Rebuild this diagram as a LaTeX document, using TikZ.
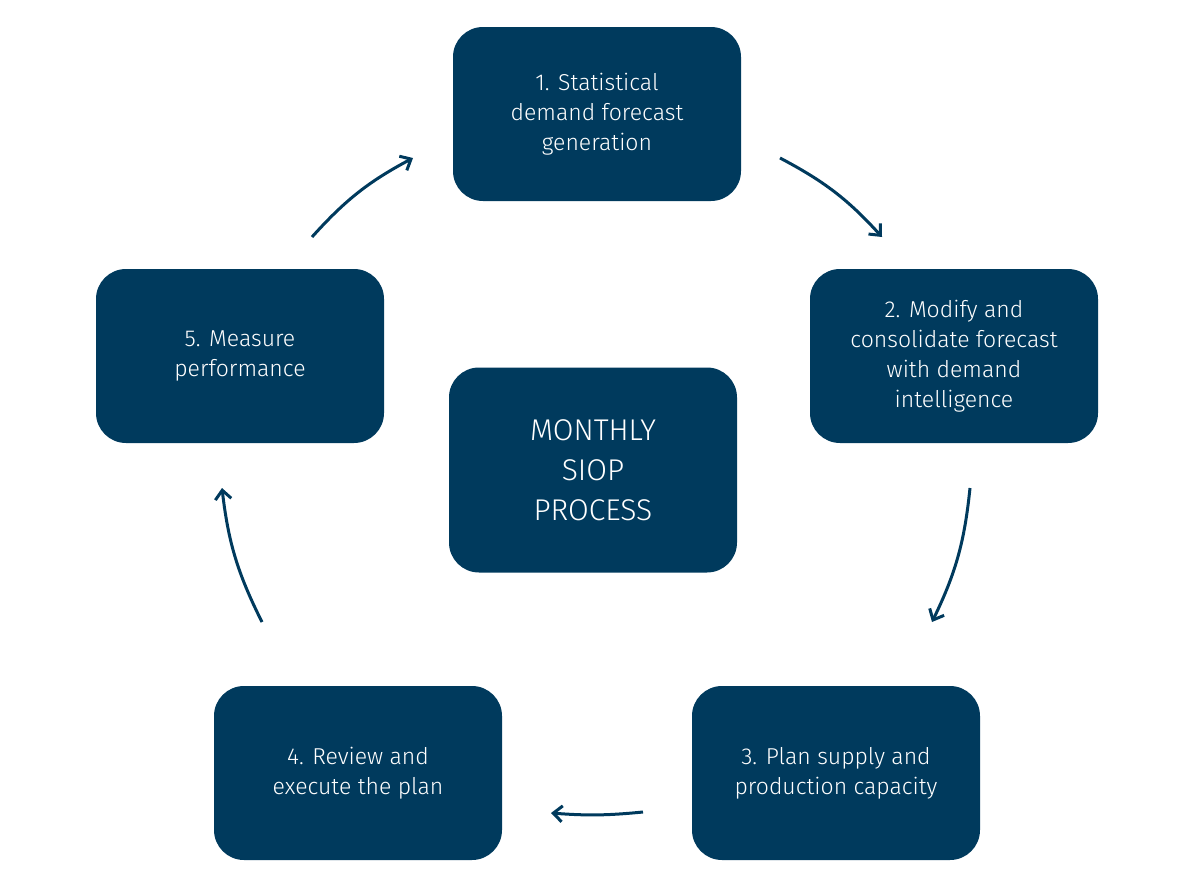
\documentclass[tikz,border=0pt]{standalone}
\usepackage{fontspec}
\setmainfont{Fira Sans Light}[BoldFont=Fira Sans]
\usetikzlibrary{arrows.meta}
\definecolor{navy}{HTML}{003A5D}
\begin{document}
\begin{tikzpicture}[x=1pt,y=-1pt,
  box/.style={fill=navy,rounded corners=30pt,minimum width=288pt,minimum height=174pt,text=white,align=center,font=\fontsize{23}{30}\selectfont},
  arr/.style={draw=navy,line width=3pt,-{Straight Barb[length=9pt,width=16pt,line width=3pt]}}]
\useasboundingbox (0,0) rectangle (1200,889);
\node[box] (b1) at (597,114) {1. Statistical\\demand forecast\\generation};
\node[box] (b2) at (954,356) {2. Modify and\\consolidate forecast\\with demand\\intelligence};
\node[box] (b5) at (240,356) {5. Measure\\performance};
\node[box,minimum height=205pt,font=\fontsize{30}{40}\selectfont] (c) at (593,470) {MONTHLY\\SIOP\\PROCESS};
\node[box] (b3) at (836,773) {3. Plan supply and\\production capacity};
\node[box] (b4) at (358,773) {4. Review and\\execute the plan};
\coordinate (a1s) at (780,158); \coordinate (a1e) at (882,237);
\coordinate (a2s) at (970,488); \coordinate (a2e) at (932,622);
\coordinate (a3s) at (643,812); \coordinate (a3e) at (551,813);
\coordinate (a4s) at (262,622); \coordinate (a4e) at (222,488);
\coordinate (a5s) at (312,237); \coordinate (a5e) at (413,158);
\draw[arr] (a1s) to[bend left=10] (a1e);
\draw[arr] (a2s) to[bend left=10] (a2e);
\draw[arr] (a3s) to[bend left=5] (a3e);
\draw[arr] (a4s) to[bend left=10] (a4e);
\draw[arr] (a5s) to[bend left=10] (a5e);
\end{tikzpicture}
\end{document}
